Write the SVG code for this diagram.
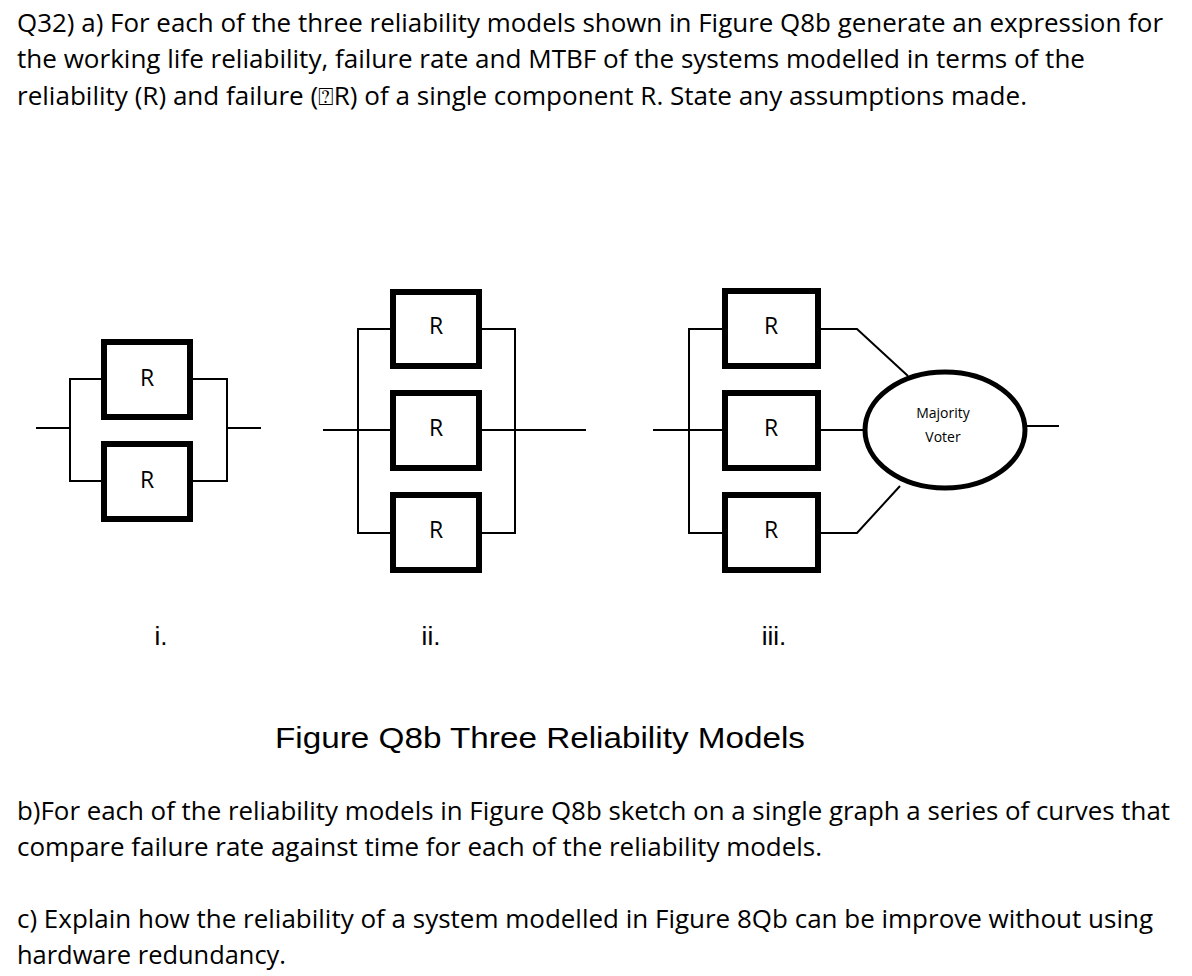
<svg xmlns="http://www.w3.org/2000/svg" width="1192" height="976" viewBox="0 0 1192 976">
<style>
.t{font-family:"Open Sans","Liberation Sans",sans-serif;font-size:25px;fill:#000}
.box{fill:#fff;stroke:#000;stroke-width:6}
.r{font-family:"Open Sans","Liberation Sans",sans-serif;font-size:23px;text-anchor:middle;fill:#000}
.w{fill:none;stroke:#000;stroke-width:2}
.lab{font-family:"Liberation Sans",sans-serif;font-size:26px;text-anchor:middle;fill:#000}
</style>
<rect width="1192" height="976" fill="#fff"/>
<text class="t" x="17" y="32" textLength="1146" lengthAdjust="spacingAndGlyphs">Q32) a) For each of the three reliability models shown in Figure Q8b generate an expression for</text>
<text class="t" x="17" y="68" textLength="1068" lengthAdjust="spacingAndGlyphs">the working life reliability, failure rate and MTBF of the systems modelled in terms of the</text>
<text class="t" x="17" y="105" textLength="1010" lengthAdjust="spacingAndGlyphs">reliability (R) and failure (⍰R) of a single component R. State any assumptions made.</text>
<g id="connectors">
<path class="w" d="M36 428H70M104 379H70V481H104M190 379H227V481H190M227 428H261"/>
<path class="w" d="M323 430H393M393 329H358V533H393M479 329H515V533H479M479 430H586"/>
<path class="w" d="M653 430H725M725 329H689V533H725M818 329H857L908 376M818 430H863M818 533H857L900 486M1027 426H1059"/>
</g>
<g id="m1-top"><rect class="box" x="104" y="342" width="86" height="75"/><text class="r" x="147" y="386">R</text></g>
<g id="m1-bot"><rect class="box" x="104" y="444" width="86" height="75"/><text class="r" x="147" y="488">R</text></g>
<g id="m2-top"><rect class="box" x="393" y="292" width="86" height="74"/><text class="r" x="436" y="334">R</text></g>
<g id="m2-mid"><rect class="box" x="393" y="393" width="86" height="75"/><text class="r" x="436" y="436">R</text></g>
<g id="m2-bot"><rect class="box" x="393" y="495" width="86" height="75"/><text class="r" x="436" y="538">R</text></g>
<g id="m3-top"><rect class="box" x="725" y="291" width="93" height="75"/><text class="r" x="771" y="334">R</text></g>
<g id="m3-mid"><rect class="box" x="725" y="393" width="93" height="75"/><text class="r" x="771" y="436">R</text></g>
<g id="m3-bot"><rect class="box" x="725" y="495" width="93" height="75"/><text class="r" x="771" y="538">R</text></g>
<g id="voter"><ellipse cx="945" cy="430" rx="80" ry="58" fill="#fff" stroke="#000" stroke-width="5"/>
<text class="r" x="943" y="418" style="font-size:14px">Majority</text><text class="r" x="943" y="442" style="font-size:14px">Voter</text></g>
<text class="lab" x="161" y="645">i.</text>
<text class="lab" x="431" y="645">ii.</text>
<text class="lab" x="774" y="645">iii.</text>
<text class="lab" x="540" y="748" textLength="530" lengthAdjust="spacingAndGlyphs" style="font-size:30px">Figure Q8b Three Reliability Models</text>
<text class="t" x="17" y="820" textLength="1153" lengthAdjust="spacingAndGlyphs">b)For each of the reliability models in Figure Q8b sketch on a single graph a series of curves that</text>
<text class="t" x="17" y="856" textLength="805" lengthAdjust="spacingAndGlyphs">compare failure rate against time for each of the reliability models.</text>
<text class="t" x="17" y="928" textLength="1136" lengthAdjust="spacingAndGlyphs">c) Explain how the reliability of a system modelled in Figure 8Qb can be improve without using</text>
<text class="t" x="17" y="964" textLength="269" lengthAdjust="spacingAndGlyphs">hardware redundancy.</text>
</svg>
